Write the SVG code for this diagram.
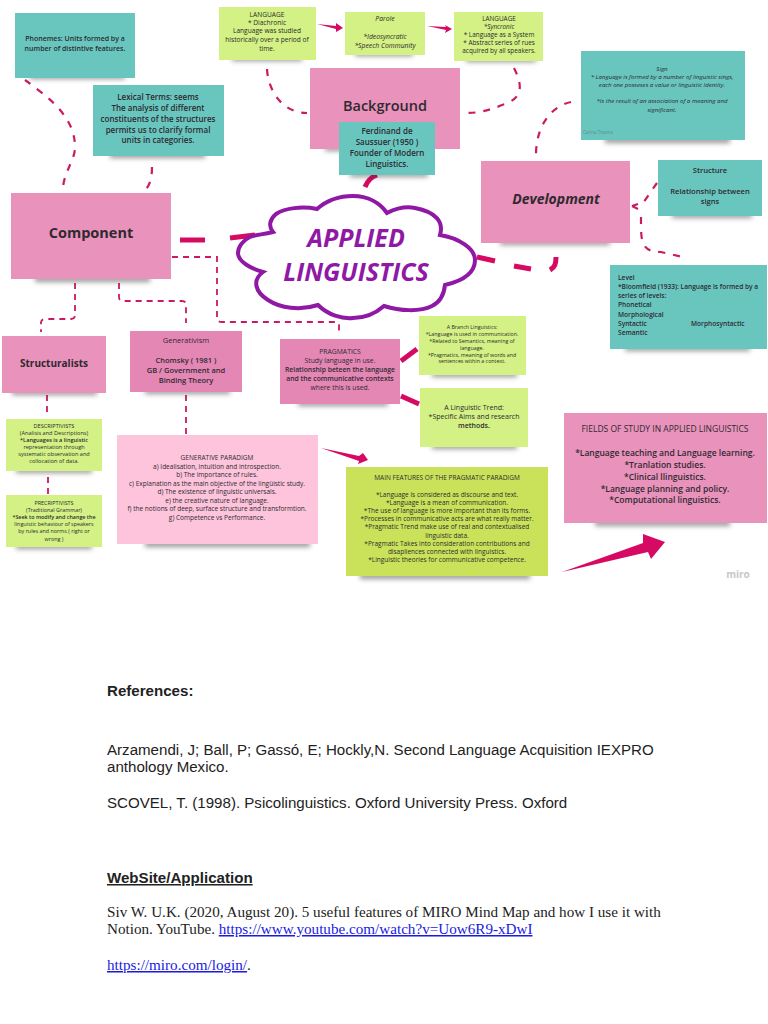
<svg xmlns="http://www.w3.org/2000/svg" width="768" height="1024" viewBox="0 0 768 1024">
<defs>
<filter id="blur" x="-20%" y="-300%" width="140%" height="700%"><feGaussianBlur stdDeviation="2.4"/></filter>
</defs>
<style>
text{font-family:"Open Sans","Noto Sans","DejaVu Sans",sans-serif;text-anchor:middle;fill:#2e2a30}
.sh{fill:#333;opacity:.5;filter:url(#blur)}
.teal{fill:#69c6bf}.pink{fill:#e992bb}.green{fill:#d3f184}.lpink{fill:#fdc4db}.olive{fill:#c9e25a}.dpink{fill:#e487b5}
.d{fill:none;stroke:#cb1a64;stroke-width:2.2;stroke-dasharray:7 8}
.e{fill:none;stroke:#cb1a64;stroke-width:1.8;stroke-dasharray:6 5}
.c{fill:none;stroke:#cb1a64;stroke-width:2}
.t{fill:none;stroke:#d60a63;stroke-width:5}
.a{fill:#d60a63}
.cloud{fill:#fff;stroke:#8f18a5;stroke-width:4;stroke-linejoin:miter}
.s5{font-size:5.6px}.s6{font-size:6.2px}.s7{font-size:7px}.s8{font-size:8px}.s9{font-size:9px}
.h{font-weight:700}.i{font-style:italic}
.ref{font-family:"Liberation Sans",Arial,sans-serif;font-size:15.1px;text-anchor:start;fill:#222}
.ser{font-family:"Liberation Serif","Times New Roman",serif;font-size:15.15px;text-anchor:start;fill:#222}
.lnk{fill:#1a1ae0;text-decoration:underline}
</style>
<rect width="768" height="1024" fill="#fff"/>

<g id="connectors">
<path class="d" d="M25,80C45,95 75,115 75,147C75,160 65,170 63,187"/>
<path class="d" d="M152,167C152,178 150,187 142,193"/>
<path class="d" d="M267,69C268,90 282,113 307,113"/>
<path class="d" d="M514,68C524,88 521,98 505,104C490,110 480,113 466,113"/>
<path class="d" d="M571,102C552,106 536,125 536,155"/>
<path class="d" d="M657,183L643,203"/>
<path class="c" d="M632,206l6,-2M632,206l6,3"/>
<path class="d" d="M641,217C641,240 640,252 661,252L687,258"/>
<path class="t" d="M477,257L495,261M514,266L531,269"/>
<path class="t" d="M556,257C556,264 555,267 550,270"/>
<path class="t" d="M377,175C371,177 367,182 365,187"/>
<path class="t" d="M180,240L205,240M230,238L255,235"/>
<path class="e" d="M172,257H217V318Q217,322 222,322H335Q339,322 339,326V333"/>
<path class="e" d="M75,283V315Q75,319 71,319H45Q41,319 41,323V332"/>
<path class="e" d="M119,283V297Q119,301 123,301H182Q186,301 186,305V323"/>
<path class="e" d="M47,395V415"/>
<path class="e" d="M48,477V495"/>
<path class="e" d="M186,395V438"/>
<circle cx="178" cy="439" r="1" fill="#cb1a64"/>
<path class="t" d="M401,361L417,349"/>
<path class="t" d="M401,396L419,404"/>
<polygon class="a" points="321,448 359,456 363,453 368,460 358,464 359,461"/>
<polygon class="a" points="562,572 643,543 643,534 665,542 651,559 648,552"/>
<polygon class="a" points="317,24 336,26 336,23 343,28 336,32 336,29"/>
<polygon class="a" points="427,26 446,27 445,25 452,29 445,33 446,30"/>
</g>

<g id="cloud">
<path class="cloud" d="M273,232C262,235 258,234 250,237C243,240 238,247 238,253C238,262 252,269 263,272C252,280 255,292 268,300C280,308 300,311 318,305C328,315 342,319 353,318C366,318 376,313 384,306C400,311 420,312 432,306C440,302 444,295 445,285C462,281 475,273 475,260C475,248 458,238 440,235C444,222 436,212 415,208C405,206 395,209 387,213C380,203 368,196 353,196C338,196 326,201 317,209C302,206 285,208 276,214C270,219 268,226 273,232Z"/>
<text x="356" y="247" font-size="25" font-weight="700" font-style="italic" style="fill:#8f18a5">APPLIED</text>
<text x="356" y="281" font-size="25" font-weight="700" font-style="italic" style="fill:#8f18a5">LINGUISTICS</text>
</g>

<g id="phonemes">
<rect class="sh" x="30" y="74" width="95" height="5"/><rect class="teal" x="15" y="13" width="120" height="65"/>
<text class="s7" font-weight="600"><tspan x="75" y="41">Phonemes: Units formed by a</tspan><tspan x="75" y="51">number of distintive features.</tspan></text>
</g>
<g id="lexical">
<rect class="sh" x="110" y="152" width="95" height="6"/><rect class="teal" x="93" y="85" width="131" height="71"/>
<text class="s8" font-weight="600"><tspan x="158" y="100">Lexical Terms: seems</tspan><tspan x="158" y="111">The analysis of different</tspan><tspan x="158" y="122">constituents of the structures</tspan><tspan x="158" y="133">permits us to clarify formal</tspan><tspan x="158" y="143">units in categories.</tspan></text>
</g>
<g id="language1">
<rect class="sh" x="232" y="56" width="70" height="5"/><rect class="green" x="219" y="7" width="97" height="53"/>
<text font-size="6.6"><tspan x="267" y="17">LANGUAGE</tspan><tspan x="267" y="25">* Diachronic</tspan><tspan x="267" y="33">Language was studied</tspan><tspan x="267" y="42">historically over a period of</tspan><tspan x="267" y="51">time.</tspan></text>
</g>
<g id="parole">
<rect class="sh" x="355" y="51" width="58" height="5"/><rect class="green" x="345" y="12" width="80" height="43"/>
<text class="i" font-size="6.8"><tspan x="385" y="21">Parole</tspan><tspan x="385" y="39">*Ideosyncratic</tspan><tspan x="385" y="48">*Speech Community</tspan></text>
</g>
<g id="language3">
<rect class="sh" x="466" y="57" width="70" height="5"/><rect class="green" x="454" y="12" width="89" height="49"/>
<text font-size="6.4"><tspan x="499" y="21">LANGUAGE</tspan><tspan x="499" y="29" class="i">*Syncronic</tspan><tspan x="499" y="37">* Language as a System</tspan><tspan x="499" y="45">* Abstract series of rues</tspan><tspan x="499" y="53">acquired by all speakers.</tspan></text>
</g>
<g id="background">
<rect class="sh" x="325" y="146" width="30" height="5"/><rect class="pink" x="310" y="68" width="150" height="81"/>
<text x="385" y="111" font-size="14.5" font-weight="600">Background</text>
</g>
<g id="ferdinand">
<rect class="sh" x="350" y="172" width="78" height="5"/><rect class="teal" x="339" y="122" width="96" height="53"/>
<text class="s8" font-weight="600"><tspan x="387" y="134">Ferdinand de</tspan><tspan x="387" y="145">Saussuer (1950 )</tspan><tspan x="387" y="156">Founder of Modern</tspan><tspan x="387" y="167">Linguistics.</tspan></text>
</g>
<g id="sign">
<rect class="sh" x="605" y="137" width="125" height="6"/><rect class="teal" x="581" y="51" width="164" height="89"/>
<text class="i" font-size="6.1"><tspan x="662" y="71">Sign</tspan><tspan x="662" y="79">* Language is formed by a number of linguistic sings,</tspan><tspan x="662" y="87">each one posseses a value or linguistic Identity.</tspan><tspan x="662" y="103">*Is the result of an association of a meaning and</tspan><tspan x="662" y="112">significant.</tspan></text>
<text x="598" y="134" font-size="4.5" style="fill:#5a8f8c">Carina Trasina</text>
</g>
<g id="development">
<rect class="sh" x="500" y="240" width="110" height="5"/><rect class="pink" x="481" y="161" width="149" height="82"/>
<text x="556" y="204" font-size="14" font-weight="700" font-style="italic">Development</text>
</g>
<g id="structure">
<rect class="sh" x="672" y="213" width="80" height="5"/><rect class="teal" x="658" y="160" width="104" height="56"/>
<text font-size="7.6" font-weight="600"><tspan x="710" y="173">Structure</tspan><tspan x="710" y="194">Relationship between</tspan><tspan x="710" y="204">signs</tspan></text>
</g>
<g id="level">
<rect class="sh" x="625" y="346" width="125" height="5"/><rect class="teal" x="610" y="265" width="157" height="84"/>
<text font-size="6.6" font-weight="600" style="text-anchor:start"><tspan x="618" y="280">Level</tspan><tspan x="618" y="289">*Bloomfield (1933): Language is formed by a</tspan><tspan x="618" y="298">series of levels:</tspan><tspan x="618" y="307">Phonetical</tspan><tspan x="618" y="317">Morphological</tspan><tspan x="618" y="326">Syntactic</tspan><tspan x="691" y="326">Morphosyntactic</tspan><tspan x="618" y="335">Semantic</tspan></text>
</g>
<g id="component">
<rect class="sh" x="35" y="276" width="115" height="6"/><rect class="pink" x="11" y="193" width="160" height="86"/>
<text x="91" y="238" font-size="14.5" font-weight="700">Component</text>
</g>
<g id="structuralists">
<rect class="sh" x="12" y="390" width="85" height="5"/><rect class="pink" x="2" y="336" width="104" height="57"/>
<text x="54" y="367" font-size="10" font-weight="700">Structuralists</text>
</g>
<g id="generativism">
<rect class="sh" x="145" y="389" width="85" height="5"/><rect class="dpink" x="130" y="331" width="112" height="61"/>
<text font-size="7.5"><tspan x="186" y="343">Generativism</tspan><tspan x="186" y="363" font-weight="600">Chomsky ( 1981 )</tspan><tspan x="186" y="373" font-weight="600">GB / Government and</tspan><tspan x="186" y="383" font-weight="600">Binding Theory</tspan></text>
</g>
<g id="pragmatics">
<rect class="sh" x="298" y="401" width="90" height="5"/><rect class="dpink" x="280" y="339" width="120" height="65"/>
<text font-size="6.8"><tspan x="340" y="354">PRAGMATICS</tspan><tspan x="340" y="363">Study language in use.</tspan><tspan x="340" y="372" font-weight="600">Relationship beteen the language</tspan><tspan x="340" y="381" font-weight="600">and the communicative contexts</tspan><tspan x="340" y="390">where this is used.</tspan></text>
</g>
<g id="branch">
<rect class="sh" x="432" y="372" width="85" height="5"/><rect class="green" x="419" y="316" width="107" height="59"/>
<text font-size="5.3"><tspan x="472" y="329">A Branch Linguistics:</tspan><tspan x="472" y="336">*Language is used in communication.</tspan><tspan x="472" y="343">*Related to Semantics, meaning of</tspan><tspan x="472" y="350">language.</tspan><tspan x="472" y="357">*Pragmatics, meaning of words and</tspan><tspan x="472" y="363">sentences within a context.</tspan></text>
</g>
<g id="trend">
<rect class="sh" x="432" y="444" width="85" height="5"/><rect class="green" x="420" y="388" width="108" height="59"/>
<text font-size="7"><tspan x="474" y="410">A Linguistic Trend:</tspan><tspan x="474" y="419">*Specific Aims and research</tspan><tspan x="474" y="428" font-weight="600">methods.</tspan></text>
</g>
<g id="descriptivists">
<rect class="sh" x="16" y="468" width="76" height="5"/><rect class="green" x="6" y="419" width="96" height="52"/>
<text class="s5"><tspan x="54" y="428">DESCRIPTIVISTS</tspan><tspan x="54" y="435">(Analisis and Descriptions)</tspan><tspan x="54" y="442" font-weight="600">*Languages is a linguistic</tspan><tspan x="54" y="449">representation through</tspan><tspan x="54" y="456">systematic observation and</tspan><tspan x="54" y="463">collocation of data.</tspan></text>
</g>
<g id="prescriptivists">
<rect class="sh" x="16" y="544" width="76" height="5"/><rect class="green" x="6" y="495" width="96" height="52"/>
<text font-size="5.4"><tspan x="54" y="505">PRECRIPTIVISTS</tspan><tspan x="54" y="512">(Traditional Grammar)</tspan><tspan x="54" y="519" font-weight="600">*Seek to modify and change the</tspan><tspan x="54" y="526">linguistic behaviour of speakers</tspan><tspan x="54" y="533">by rules and norms ( right or</tspan><tspan x="54" y="541">wrong )</tspan></text>
</g>
<g id="generative">
<rect class="sh" x="145" y="541" width="165" height="6"/><rect class="lpink" x="117" y="435" width="201" height="109"/>
<text font-size="6.5"><tspan x="217" y="460">GENERATIVE PARADIGM</tspan><tspan x="217" y="469">a) Idealisation, intuition and introspection.</tspan><tspan x="217" y="477">b) The importance of rules.</tspan><tspan x="217" y="486">c) Explanation as the main objective of the lingüistic study.</tspan><tspan x="217" y="494">d) The existence of linguistic universals.</tspan><tspan x="217" y="503">e) the creative nature of language.</tspan><tspan x="217" y="511">f) the notions of deep, surface structure and transformtion.</tspan><tspan x="217" y="520">g) Competence vs Performance.</tspan></text>
</g>
<g id="main">
<rect class="sh" x="360" y="573" width="170" height="6"/><rect class="olive" x="346" y="467" width="202" height="109"/>
<text font-size="6.5"><tspan x="447" y="480">MAIN FEATURES OF THE PRAGMATIC PARADIGM</tspan><tspan x="447" y="497">*Language is considered as discourse and text.</tspan><tspan x="447" y="505">*Language is a mean of communication.</tspan><tspan x="447" y="513">*The use of language is more important than its forms.</tspan><tspan x="447" y="521">*Processes in communicative acts are what really matter.</tspan><tspan x="447" y="529">*Pragmatic Trend make use of real and contextualised</tspan><tspan x="447" y="538">linguistic data.</tspan><tspan x="447" y="546">*Pragmatic Takes into consideration contributions and</tspan><tspan x="447" y="554">disapliences connected with linguistics.</tspan><tspan x="447" y="562">*Linguistic theories for communicative competence.</tspan></text>
</g>
<g id="fields">
<rect class="sh" x="595" y="520" width="135" height="6"/><rect class="pink" x="564" y="413" width="203" height="110"/>
<text font-size="8.5"><tspan x="665" y="432">FIELDS OF STUDY IN APPLIED LINGUISTICS</tspan><tspan x="665" y="456" font-weight="600">*Language teaching and Language learning.</tspan><tspan x="665" y="468" font-weight="600">*Tranlation studies.</tspan><tspan x="665" y="480" font-weight="600">*Clinical llinguistics.</tspan><tspan x="665" y="492" font-weight="600">*Language planning and policy.</tspan><tspan x="665" y="503" font-weight="600">*Computational linguistics.</tspan></text>
</g>
<text x="738" y="578" font-size="10" font-weight="700" style="fill:#c4c8cc">miro</text>

<g id="references">
<text class="ref" x="107" y="696" font-weight="700">References:</text>
<text class="ref" x="107" y="755">Arzamendi, J; Ball, P; Gassó, E; Hockly,N. Second Language Acquisition IEXPRO</text>
<text class="ref" x="107" y="772">anthology Mexico.</text>
<text class="ref" x="107" y="808">SCOVEL, T. (1998). Psicolinguistics. Oxford University Press. Oxford</text>
<text class="ref" x="107" y="883" font-weight="700" text-decoration="underline">WebSite/Application</text>
<text class="ser" x="107" y="917">Siv W. U.K. (2020, August 20). 5 useful features of MIRO Mind Map and how I use it with</text>
<text class="ser" x="107" y="934">Notion. YouTube. <tspan class="lnk">https://www.youtube.com/watch?v=Uow6R9-xDwI</tspan></text>
<text class="ser" x="107" y="970"><tspan class="lnk">https://miro.com/login/</tspan>.</text>
</g>
</svg>
